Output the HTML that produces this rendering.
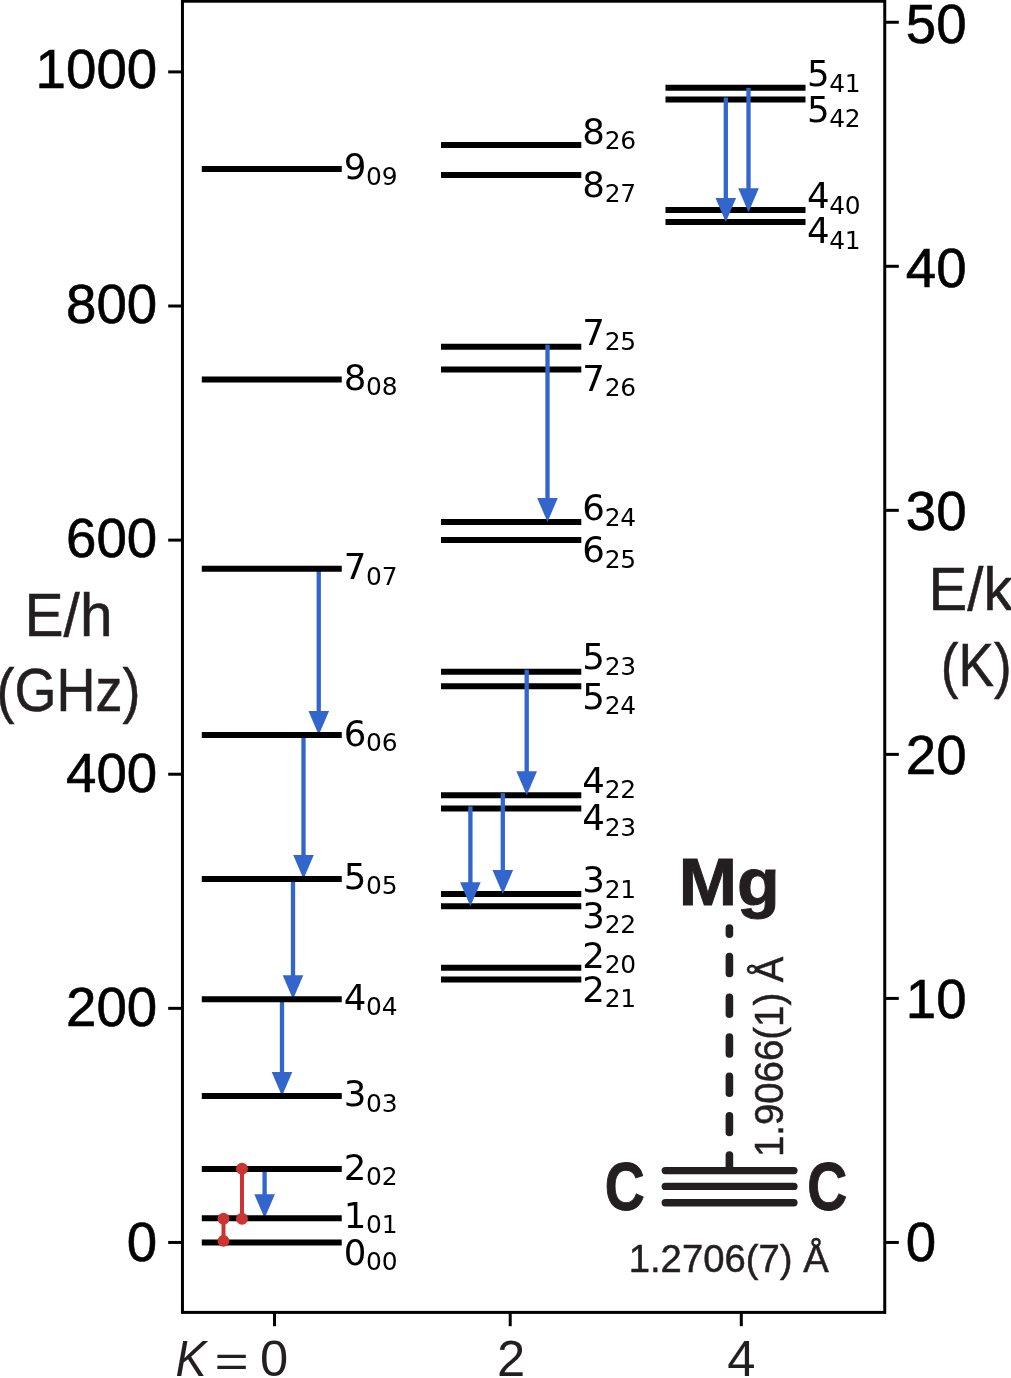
<!DOCTYPE html>
<html lang="en"><head><meta charset="utf-8"><title>Energy level diagram</title>
<style>html,body{margin:0;padding:0;background:#fff}svg{display:block}.lv{stroke:#000;stroke-width:6;fill:none}.ax{stroke:#000;stroke-width:3;fill:none}.dj{font-family:"DejaVu Sans","Liberation Sans",sans-serif;fill:#000}.ls{font-family:"Liberation Sans","DejaVu Sans",sans-serif;fill:#231f20;stroke:#231f20;stroke-width:0.5}.tk{font-family:"Liberation Sans","DejaVu Sans",sans-serif;fill:#000;stroke:#000;stroke-width:0.6}.xl{font-family:"Liberation Sans","DejaVu Sans",sans-serif;fill:#231f20}.lb{font-family:"Liberation Sans","DejaVu Sans",sans-serif;font-weight:bold;fill:#231f20;stroke:#231f20;stroke-width:1}</style></head><body>
<svg width="1011" height="1378" viewBox="0 0 1011 1378">
<rect x="0" y="0" width="1011" height="1378" fill="#fff"/>
<g fill="#3366cc"><rect x="316.60" y="568.80" width="4.3" height="143.25"/><polygon points="308.45,711.05 329.05,711.05 318.75,735.05"/></g>
<g fill="#3366cc"><rect x="301.35" y="735.05" width="4.3" height="121.00"/><polygon points="293.20,855.05 313.80,855.05 303.50,879.05"/></g>
<g fill="#3366cc"><rect x="290.85" y="879.05" width="4.3" height="97.15"/><polygon points="282.70,975.20 303.30,975.20 293.00,999.20"/></g>
<g fill="#3366cc"><rect x="279.85" y="999.20" width="4.3" height="73.85"/><polygon points="271.70,1072.05 292.30,1072.05 282.00,1096.05"/></g>
<g fill="#3366cc"><rect x="262.45" y="1169.10" width="4.3" height="26.15"/><polygon points="254.30,1194.25 274.90,1194.25 264.60,1218.25"/></g>
<g stroke="#cc3333" stroke-width="4" fill="none">
<line x1="223.5" y1="1218.7" x2="223.5" y2="1240.9"/>
<line x1="242.0" y1="1168.8" x2="242.0" y2="1218.7"/>
</g>
<line class="lv" x1="201.8" y1="1242.4" x2="341.75" y2="1242.4"/>
<line class="lv" x1="201.8" y1="1218.25" x2="341.75" y2="1218.25"/>
<line class="lv" x1="201.8" y1="1169.1" x2="341.75" y2="1169.1"/>
<line class="lv" x1="201.8" y1="1096.05" x2="341.75" y2="1096.05"/>
<line class="lv" x1="201.8" y1="999.2" x2="341.75" y2="999.2"/>
<line class="lv" x1="201.8" y1="879.05" x2="341.75" y2="879.05"/>
<line class="lv" x1="201.8" y1="735.05" x2="341.75" y2="735.05"/>
<line class="lv" x1="201.8" y1="568.8" x2="341.75" y2="568.8"/>
<line class="lv" x1="201.8" y1="379.55" x2="341.75" y2="379.55"/>
<line class="lv" x1="201.8" y1="169.05" x2="341.75" y2="169.05"/>
<g fill="#cc3333">
<circle cx="223.5" cy="1218.7" r="5.95"/><circle cx="223.5" cy="1240.9" r="5.95"/>
<circle cx="242.0" cy="1168.8" r="5.95"/><circle cx="242.0" cy="1218.7" r="5.95"/>
</g>
<text class="dj" x="343.70" y="1265.00" font-size="35.6">0</text><text class="dj" x="366.10" y="1270.30" font-size="24.9" letter-spacing="-0.3">00</text>
<text class="dj" x="343.70" y="1227.80" font-size="35.6">1</text><text class="dj" x="366.10" y="1233.10" font-size="24.9" letter-spacing="-0.3">01</text>
<text class="dj" x="343.70" y="1179.70" font-size="35.6">2</text><text class="dj" x="366.10" y="1185.00" font-size="24.9" letter-spacing="-0.3">02</text>
<text class="dj" x="343.70" y="1106.20" font-size="35.6">3</text><text class="dj" x="366.10" y="1111.50" font-size="24.9" letter-spacing="-0.3">03</text>
<text class="dj" x="343.70" y="1009.60" font-size="35.6">4</text><text class="dj" x="366.10" y="1014.90" font-size="24.9" letter-spacing="-0.3">04</text>
<text class="dj" x="343.70" y="888.80" font-size="35.6">5</text><text class="dj" x="366.10" y="894.10" font-size="24.9" letter-spacing="-0.3">05</text>
<text class="dj" x="343.70" y="745.90" font-size="35.6">6</text><text class="dj" x="366.10" y="751.20" font-size="24.9" letter-spacing="-0.3">06</text>
<text class="dj" x="343.70" y="579.30" font-size="35.6">7</text><text class="dj" x="366.10" y="584.60" font-size="24.9" letter-spacing="-0.3">07</text>
<text class="dj" x="343.70" y="389.70" font-size="35.6">8</text><text class="dj" x="366.10" y="395.00" font-size="24.9" letter-spacing="-0.3">08</text>
<text class="dj" x="343.70" y="179.30" font-size="35.6">9</text><text class="dj" x="366.10" y="184.60" font-size="24.9" letter-spacing="-0.3">09</text>
<line class="lv" x1="441.0" y1="979.4" x2="581.3" y2="979.4"/>
<line class="lv" x1="441.0" y1="967.7" x2="581.3" y2="967.7"/>
<line class="lv" x1="441.0" y1="906.2" x2="581.3" y2="906.2"/>
<line class="lv" x1="441.0" y1="894.0" x2="581.3" y2="894.0"/>
<line class="lv" x1="441.0" y1="808.4" x2="581.3" y2="808.4"/>
<line class="lv" x1="441.0" y1="795.2" x2="581.3" y2="795.2"/>
<line class="lv" x1="441.0" y1="686.2" x2="581.3" y2="686.2"/>
<line class="lv" x1="441.0" y1="671.7" x2="581.3" y2="671.7"/>
<line class="lv" x1="441.0" y1="539.9" x2="581.3" y2="539.9"/>
<line class="lv" x1="441.0" y1="522.0" x2="581.3" y2="522.0"/>
<line class="lv" x1="441.0" y1="369.45" x2="581.3" y2="369.45"/>
<line class="lv" x1="441.0" y1="346.7" x2="581.3" y2="346.7"/>
<line class="lv" x1="441.0" y1="175.0" x2="581.3" y2="175.0"/>
<line class="lv" x1="441.0" y1="145.0" x2="581.3" y2="145.0"/>
<g fill="#3366cc"><rect x="545.35" y="344.70" width="4.3" height="154.30"/><polygon points="537.20,498.00 557.80,498.00 547.50,522.00"/></g>
<g fill="#3366cc"><rect x="524.55" y="669.70" width="4.3" height="102.50"/><polygon points="516.40,771.20 537.00,771.20 526.70,795.20"/></g>
<g fill="#3366cc"><rect x="500.65" y="793.20" width="4.3" height="77.80"/><polygon points="492.50,870.00 513.10,870.00 502.80,894.00"/></g>
<g fill="#3366cc"><rect x="468.25" y="806.40" width="4.3" height="76.80"/><polygon points="460.10,882.20 480.70,882.20 470.40,906.20"/></g>
<text class="dj" x="582.30" y="1002.05" font-size="35.6">2</text><text class="dj" x="604.70" y="1007.35" font-size="24.9" letter-spacing="-0.3">21</text>
<text class="dj" x="582.30" y="967.80" font-size="35.6">2</text><text class="dj" x="604.70" y="973.10" font-size="24.9" letter-spacing="-0.3">20</text>
<text class="dj" x="582.30" y="927.90" font-size="35.6">3</text><text class="dj" x="604.70" y="933.20" font-size="24.9" letter-spacing="-0.3">22</text>
<text class="dj" x="582.30" y="892.30" font-size="35.6">3</text><text class="dj" x="604.70" y="897.60" font-size="24.9" letter-spacing="-0.3">21</text>
<text class="dj" x="582.30" y="830.30" font-size="35.6">4</text><text class="dj" x="604.70" y="835.60" font-size="24.9" letter-spacing="-0.3">23</text>
<text class="dj" x="582.30" y="792.80" font-size="35.6">4</text><text class="dj" x="604.70" y="798.10" font-size="24.9" letter-spacing="-0.3">22</text>
<text class="dj" x="582.30" y="708.80" font-size="35.6">5</text><text class="dj" x="604.70" y="714.10" font-size="24.9" letter-spacing="-0.3">24</text>
<text class="dj" x="582.30" y="669.30" font-size="35.6">5</text><text class="dj" x="604.70" y="674.60" font-size="24.9" letter-spacing="-0.3">23</text>
<text class="dj" x="582.30" y="562.30" font-size="35.6">6</text><text class="dj" x="604.70" y="567.60" font-size="24.9" letter-spacing="-0.3">25</text>
<text class="dj" x="582.30" y="520.30" font-size="35.6">6</text><text class="dj" x="604.70" y="525.60" font-size="24.9" letter-spacing="-0.3">24</text>
<text class="dj" x="582.30" y="390.80" font-size="35.6">7</text><text class="dj" x="604.70" y="396.10" font-size="24.9" letter-spacing="-0.3">26</text>
<text class="dj" x="582.30" y="344.80" font-size="35.6">7</text><text class="dj" x="604.70" y="350.10" font-size="24.9" letter-spacing="-0.3">25</text>
<text class="dj" x="582.30" y="197.10" font-size="35.6">8</text><text class="dj" x="604.70" y="202.40" font-size="24.9" letter-spacing="-0.3">27</text>
<text class="dj" x="582.30" y="144.10" font-size="35.6">8</text><text class="dj" x="604.70" y="149.40" font-size="24.9" letter-spacing="-0.3">26</text>
<line class="lv" x1="665.5" y1="221.9" x2="805.5" y2="221.9"/>
<line class="lv" x1="665.5" y1="210.05" x2="805.5" y2="210.05"/>
<line class="lv" x1="665.5" y1="99.6" x2="805.5" y2="99.6"/>
<line class="lv" x1="665.5" y1="87.8" x2="805.5" y2="87.8"/>
<g fill="#3366cc"><rect x="723.65" y="97.50" width="4.3" height="101.40"/><polygon points="715.50,197.90 736.10,197.90 725.80,221.90"/></g>
<g fill="#3366cc"><rect x="746.35" y="87.90" width="4.3" height="101.30"/><polygon points="738.20,188.20 758.80,188.20 748.50,212.20"/></g>
<text class="dj" x="806.90" y="243.30" font-size="35.6">4</text><text class="dj" x="829.30" y="248.60" font-size="24.9" letter-spacing="-0.3">41</text>
<text class="dj" x="806.90" y="208.30" font-size="35.6">4</text><text class="dj" x="829.30" y="213.60" font-size="24.9" letter-spacing="-0.3">40</text>
<text class="dj" x="806.90" y="121.90" font-size="35.6">5</text><text class="dj" x="829.30" y="127.20" font-size="24.9" letter-spacing="-0.3">42</text>
<text class="dj" x="806.90" y="86.40" font-size="35.6">5</text><text class="dj" x="829.30" y="91.70" font-size="24.9" letter-spacing="-0.3">41</text>
<rect class="ax" x="182.45" y="1.2" width="702.3" height="1311.2"/>
<line class="ax" x1="168.2" y1="1242.45" x2="182" y2="1242.45"/>
<line class="ax" x1="168.2" y1="1008.34" x2="182" y2="1008.34"/>
<line class="ax" x1="168.2" y1="774.23" x2="182" y2="774.23"/>
<line class="ax" x1="168.2" y1="540.12" x2="182" y2="540.12"/>
<line class="ax" x1="168.2" y1="306.01" x2="182" y2="306.01"/>
<line class="ax" x1="168.2" y1="71.90" x2="182" y2="71.90"/>
<line class="ax" x1="885" y1="1242.45" x2="898.8" y2="1242.45"/>
<line class="ax" x1="885" y1="998.41" x2="898.8" y2="998.41"/>
<line class="ax" x1="885" y1="754.37" x2="898.8" y2="754.37"/>
<line class="ax" x1="885" y1="510.33" x2="898.8" y2="510.33"/>
<line class="ax" x1="885" y1="266.29" x2="898.8" y2="266.29"/>
<line class="ax" x1="885" y1="22.25" x2="898.8" y2="22.25"/>
<line class="ax" x1="274.5" y1="1313" x2="274.5" y2="1326.2"/>
<line class="ax" x1="510.2" y1="1313" x2="510.2" y2="1326.2"/>
<line class="ax" x1="741.3" y1="1313" x2="741.3" y2="1326.2"/>
<text class="tk" x="157.2" y="1260.60" font-size="56.3" text-anchor="end" textLength="30.4" lengthAdjust="spacingAndGlyphs">0</text>
<text class="tk" x="157.2" y="1026.08" font-size="56.3" text-anchor="end" textLength="91.2" lengthAdjust="spacingAndGlyphs">200</text>
<text class="tk" x="157.2" y="791.56" font-size="56.3" text-anchor="end" textLength="91.2" lengthAdjust="spacingAndGlyphs">400</text>
<text class="tk" x="157.2" y="557.04" font-size="56.3" text-anchor="end" textLength="91.2" lengthAdjust="spacingAndGlyphs">600</text>
<text class="tk" x="157.2" y="322.52" font-size="56.3" text-anchor="end" textLength="91.2" lengthAdjust="spacingAndGlyphs">800</text>
<text class="tk" x="157.2" y="88.00" font-size="56.3" text-anchor="end" textLength="121.6" lengthAdjust="spacingAndGlyphs">1000</text>
<text class="tk" x="905.8" y="1261.20" font-size="56.3" textLength="30.4" lengthAdjust="spacingAndGlyphs">0</text>
<text class="tk" x="905.8" y="1017.60" font-size="56.3" textLength="60.8" lengthAdjust="spacingAndGlyphs">10</text>
<text class="tk" x="905.8" y="774.00" font-size="56.3" textLength="60.8" lengthAdjust="spacingAndGlyphs">20</text>
<text class="tk" x="905.8" y="530.40" font-size="56.3" textLength="60.8" lengthAdjust="spacingAndGlyphs">30</text>
<text class="tk" x="905.8" y="286.80" font-size="56.3" textLength="60.8" lengthAdjust="spacingAndGlyphs">40</text>
<text class="tk" x="905.8" y="43.20" font-size="56.3" textLength="60.8" lengthAdjust="spacingAndGlyphs">50</text>
<text class="xl" x="175.6" y="1376.4" font-size="50.7" font-style="italic" textLength="31" lengthAdjust="spacingAndGlyphs">K</text>
<text class="xl" x="214.5" y="1377" font-size="44" textLength="34.2" lengthAdjust="spacingAndGlyphs">=</text>
<text class="xl" x="274" y="1376.4" font-size="50.7" text-anchor="middle">0</text>
<text class="xl" x="511" y="1376.4" font-size="50.7" text-anchor="middle">2</text>
<text class="xl" x="741.3" y="1376.4" font-size="50.7" text-anchor="middle">4</text>
<text class="ls" x="68.5" y="635.8" font-size="60.4" text-anchor="middle" textLength="88" lengthAdjust="spacingAndGlyphs">E/h</text>
<text class="ls" x="68.5" y="710.7" font-size="60.4" text-anchor="middle" textLength="144" lengthAdjust="spacingAndGlyphs">(GHz)</text>
<text class="ls" x="928.5" y="610.4" font-size="60.4" textLength="84" lengthAdjust="spacingAndGlyphs">E/k</text>
<text class="ls" x="976.3" y="685.5" font-size="60.4" text-anchor="middle" textLength="71" lengthAdjust="spacingAndGlyphs">(K)</text>
<g stroke="#231f20" stroke-linecap="round" fill="none">
<line x1="665.3" y1="1170.6" x2="793.9" y2="1170.6" stroke-width="7.4"/>
<line x1="665.3" y1="1186.4" x2="793.9" y2="1186.4" stroke-width="7.4"/>
<line x1="665.3" y1="1202.8" x2="793.9" y2="1202.8" stroke-width="7.4"/>
<line x1="729.4" y1="928.1" x2="729.4" y2="934.2" stroke-width="7.6"/>
<line x1="729.4" y1="956.5" x2="729.4" y2="973.4" stroke-width="7.6"/>
<line x1="729.4" y1="997.3" x2="729.4" y2="1014.2" stroke-width="7.6"/>
<line x1="729.4" y1="1037.1" x2="729.4" y2="1054.0" stroke-width="7.6"/>
<line x1="729.4" y1="1076.3" x2="729.4" y2="1093.2" stroke-width="7.6"/>
<line x1="729.4" y1="1115.8" x2="729.4" y2="1132.4" stroke-width="7.6"/>
<line x1="729.4" y1="1155.0" x2="729.4" y2="1168" stroke-width="7.6"/>
</g>
<text class="lb" x="729.2" y="905.3" font-size="67" text-anchor="middle" textLength="101" lengthAdjust="spacingAndGlyphs">Mg</text>
<text class="lb" x="624.8" y="1209.7" font-size="69" text-anchor="middle" textLength="40" lengthAdjust="spacingAndGlyphs">C</text>
<text class="lb" x="827.2" y="1209.7" font-size="69" text-anchor="middle" textLength="40" lengthAdjust="spacingAndGlyphs">C</text>
<text class="ls" x="728.7" y="1271.7" font-size="39.3" text-anchor="middle" textLength="200" lengthAdjust="spacingAndGlyphs">1.2706(7) Å</text>
<text class="ls" transform="translate(783.3 1056.8) rotate(-90)" x="0" y="0" font-size="40" text-anchor="middle" textLength="200.5" lengthAdjust="spacingAndGlyphs">1.9066(1) Å</text>
</svg></body></html>
